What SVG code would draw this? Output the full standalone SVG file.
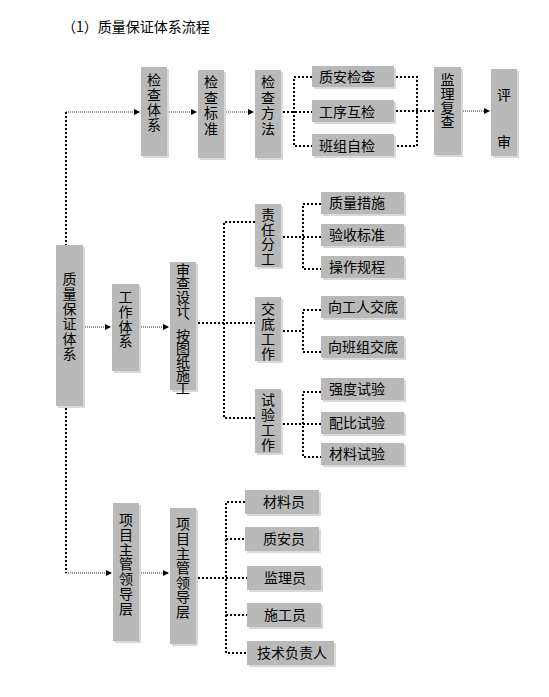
<svg xmlns="http://www.w3.org/2000/svg" width="549" height="697" viewBox="0 0 549 697">
<style>
.b{fill:#b9b9b9}
.s{fill:#d9d9d9}
text{font-family:"Noto Sans CJK SC","Liberation Sans",sans-serif;font-size:14px;fill:#000}
.v{writing-mode:vertical-rl;text-orientation:upright}
.h{text-anchor:middle}
.a{fill:none;stroke:#333;stroke-width:1;stroke-dasharray:1 1}
.d{fill:none;stroke:#000;stroke-width:2;stroke-dasharray:2 2}
</style>
<defs>
<marker id="ar" markerWidth="6" markerHeight="6" refX="5" refY="3" orient="auto" markerUnits="userSpaceOnUse">
<path d="M0,0 L6,3 L0,6 z" fill="#000"/>
</marker>
</defs>
<rect width="549" height="697" fill="#fff"/>
<text x="62" y="32">（1）质量保证体系流程</text>

<g id="connectors">
<path class="a" d="M66,112 H139" marker-end="url(#ar)"/>
<path class="a" d="M169,112 H196" marker-end="url(#ar)"/>
<path class="a" d="M226,112 H253" marker-end="url(#ar)"/>
<path class="a" d="M463,111 H489" marker-end="url(#ar)"/>
<path class="a" d="M85,327 H110" marker-end="url(#ar)"/>
<path class="a" d="M141,327 H168" marker-end="url(#ar)"/>
<path class="a" d="M66,573 H111" marker-end="url(#ar)"/>
<path class="a" d="M141,573 H168" marker-end="url(#ar)"/>
<path class="d" d="M66,112 V245 M66,408 V573"/>
<path class="d" d="M283,112 H312 M312,77 H294 V146 H312 M396,77 H417 V146 H396 M396,111 H434"/>
<path class="d" d="M198,323 H255 M255,222 H224 V418 H255"/>
<path class="d" d="M283,237 H321 M321,204 H303 V269 H321"/>
<path class="d" d="M283,331 H303 M321,310 H303 V352 H321"/>
<path class="d" d="M283,424 H321 M321,392 H303 V457 H321"/>
<path class="d" d="M198,578 H247 M245,502 H226 V653 H247 M226,539 H245 M226,615 H247"/>
</g>

<g id="n1"><rect class="s" x="143" y="69" width="26" height="89"/><rect class="b" x="141" y="67" width="26" height="89"/>
<text class="v" x="154" y="73" letter-spacing="1">检查体系</text></g>
<g id="n2"><rect class="s" x="200" y="72" width="26" height="88"/><rect class="b" x="198" y="70" width="26" height="88"/>
<text class="v" x="211" y="75" letter-spacing="1.5">检查标准</text></g>
<g id="n3"><rect class="s" x="257" y="72" width="26" height="88"/><rect class="b" x="255" y="70" width="26" height="88"/>
<text class="v" x="268" y="75" letter-spacing="1.5">检查方法</text></g>
<g id="n4"><rect class="s" x="314" y="68" width="82" height="21"/><rect class="b" x="312" y="66" width="82" height="21"/>
<text x="319" y="82">质安检查</text></g>
<g id="n5"><rect class="s" x="314" y="102" width="82" height="22"/><rect class="b" x="312" y="100" width="82" height="22"/>
<text x="319" y="117">工序互检</text></g>
<g id="n6"><rect class="s" x="314" y="136" width="82" height="22"/><rect class="b" x="312" y="134" width="82" height="22"/>
<text x="319" y="151">班组自检</text></g>
<g id="n7"><rect class="s" x="436" y="69" width="27" height="88"/><rect class="b" x="434" y="67" width="27" height="88"/>
<text class="v" x="447.5" y="73">监理复查</text></g>
<g id="n8"><rect class="s" x="493" y="71" width="26" height="87"/><rect class="b" x="491" y="69" width="26" height="87"/>
<text class="v" x="504" y="88" letter-spacing="33">评审</text></g>

<g id="n9"><rect class="s" x="58" y="247" width="27" height="161"/><rect class="b" x="56" y="245" width="27" height="161"/>
<text class="v" x="69.5" y="272" letter-spacing="1">质量保证体系</text></g>
<g id="n10"><rect class="s" x="114" y="286" width="27" height="87"/><rect class="b" x="112" y="284" width="27" height="87"/>
<text class="v" x="125.5" y="290" letter-spacing="0.7">工作体系</text></g>
<g id="n11"><rect class="s" x="172" y="264" width="26" height="128"/><rect class="b" x="170" y="262" width="26" height="128"/>
<text class="v" x="183" y="263" font-size="13" letter-spacing="-0.9">审查设计、按图纸施工</text></g>
<g id="n12"><rect class="s" x="257" y="206" width="26" height="63"/><rect class="b" x="255" y="204" width="26" height="63"/>
<text class="v" x="268" y="208" letter-spacing="0.5">责任分工</text></g>
<g id="n13"><rect class="s" x="257" y="299" width="26" height="64"/><rect class="b" x="255" y="297" width="26" height="64"/>
<text class="v" x="268" y="302" letter-spacing="1">交底工作</text></g>
<g id="n14"><rect class="s" x="257" y="391" width="26" height="64"/><rect class="b" x="255" y="389" width="26" height="64"/>
<text class="v" x="268" y="393" letter-spacing="1">试验工作</text></g>

<g id="n15"><rect class="s" x="323" y="194" width="83" height="22"/><rect class="b" x="321" y="192" width="83" height="22"/><text x="329" y="208">质量措施</text></g>
<g id="n16"><rect class="s" x="323" y="226" width="83" height="22"/><rect class="b" x="321" y="224" width="83" height="22"/><text x="329" y="240">验收标准</text></g>
<g id="n17"><rect class="s" x="323" y="258" width="83" height="22"/><rect class="b" x="321" y="256" width="83" height="22"/><text x="329" y="272">操作规程</text></g>
<g id="n18"><rect class="s" x="323" y="298" width="83" height="22"/><rect class="b" x="321" y="296" width="83" height="22"/><text x="328" y="312">向工人交底</text></g>
<g id="n19"><rect class="s" x="323" y="338" width="83" height="22"/><rect class="b" x="321" y="336" width="83" height="22"/><text x="328" y="352">向班组交底</text></g>
<g id="n20"><rect class="s" x="323" y="380" width="83" height="22"/><rect class="b" x="321" y="378" width="83" height="22"/><text x="329" y="394">强度试验</text></g>
<g id="n21"><rect class="s" x="323" y="414" width="83" height="22"/><rect class="b" x="321" y="412" width="83" height="22"/><text x="329" y="428">配比试验</text></g>
<g id="n22"><rect class="s" x="323" y="445" width="83" height="22"/><rect class="b" x="321" y="443" width="83" height="22"/><text x="329" y="459">材料试验</text></g>

<g id="n23"><rect class="s" x="115" y="505" width="26" height="138"/><rect class="b" x="113" y="503" width="26" height="138"/>
<text class="v" x="126" y="513" letter-spacing="0.7">项目主管领导层</text></g>
<g id="n24"><rect class="s" x="172" y="510" width="26" height="136"/><rect class="b" x="170" y="508" width="26" height="136"/>
<text class="v" x="183" y="517" letter-spacing="0.6">项目主管领导层</text></g>

<g id="n25"><rect class="s" x="247" y="492" width="74" height="24"/><rect class="b" x="245" y="490" width="74" height="24"/><text class="h" x="284" y="507">材料员</text></g>
<g id="n26"><rect class="s" x="247" y="529" width="74" height="24"/><rect class="b" x="245" y="527" width="74" height="24"/><text class="h" x="284" y="544">质安员</text></g>
<g id="n27"><rect class="s" x="249" y="568" width="74" height="24"/><rect class="b" x="247" y="566" width="74" height="24"/><text class="h" x="285" y="583">监理员</text></g>
<g id="n28"><rect class="s" x="249" y="605" width="74" height="24"/><rect class="b" x="247" y="603" width="74" height="24"/><text class="h" x="285" y="620">施工员</text></g>
<g id="n29"><rect class="s" x="249" y="643" width="87" height="24"/><rect class="b" x="247" y="641" width="87" height="24"/><text class="h" x="292" y="658">技术负责人</text></g>
</svg>
